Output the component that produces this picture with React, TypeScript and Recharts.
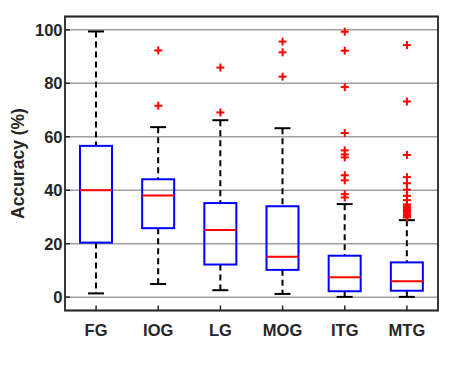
import {
  ComposedChart, Bar, Scatter, XAxis, YAxis, CartesianGrid, ReferenceArea,
} from 'recharts';

// box plot summary per region (values in %)
const categories = ['FG', 'IOG', 'LG', 'MOG', 'ITG', 'MTG'];
const lowerWhisker = [1.4, 4.9, 2.6, 1.2, 0.1, 0.1];
const lowerQuartile = [20.4, 25.8, 12.2, 10.2, 2.2, 2.4];
const medians = [40.0, 38.0, 25.1, 15.1, 7.4, 5.9];
const upperQuartile = [56.6, 44.1, 35.2, 34.0, 15.5, 13.0];
const upperWhisker = [99.4, 63.6, 66.2, 63.2, 34.8, 28.8];
const outliers: number[][] = [
  [],
  [92.3, 71.6],
  [85.9, 69.1],
  [95.6, 91.6, 82.5],
  [99.3, 92.2, 78.6, 61.4, 54.9, 53.4, 52.3, 45.6, 43.7, 38.5, 37.3],
  [94.3, 73.2, 53.2, 44.9, 42.6, 40.2, 37.9, 36.3, 34.7, 34.0, 33.4, 32.8, 32.2, 31.6, 31.0, 30.4, 29.8],
];
const yTicks = [0, 20, 40, 60, 80, 100];

const boxData = categories.map((name, i) => ({
  name,
  lo: lowerWhisker[i],
  q1: lowerQuartile[i],
  med: medians[i],
  q3: upperQuartile[i],
  hi: upperWhisker[i],
}));

const outlierData = categories.flatMap((name, i) =>
  outliers[i].map((v) => ({ name, v })),
);

const FONT = '"Liberation Sans", Arial, Helvetica, sans-serif';
const INK = '#262626';

const BoxShape = (props: any) => {
  const { x, y, width, height, payload } = props;
  const top = Math.min(y, y + height);
  const bottom = Math.max(y, y + height);
  const { lo, hi } = payload;
  const py = (v: number) => bottom - ((bottom - top) * (v - lo)) / (hi - lo);
  const cx = x + width / 2;
  const cap = width / 4;
  const yq1 = py(payload.q1);
  const yq3 = py(payload.q3);
  const ymed = py(payload.med);
  return (
    <g>
      <line x1={cx} x2={cx} y1={top} y2={yq3} stroke="#000" strokeWidth={2} strokeDasharray="6 4" />
      <line x1={cx} x2={cx} y1={yq1} y2={bottom} stroke="#000" strokeWidth={2} strokeDasharray="6 4" />
      <line x1={cx - cap} x2={cx + cap} y1={top} y2={top} stroke="#000" strokeWidth={2} />
      <line x1={cx - cap} x2={cx + cap} y1={bottom} y2={bottom} stroke="#000" strokeWidth={2} />
      <rect x={x} y={yq3} width={width} height={yq1 - yq3} fill="none" stroke="#0000ff" strokeWidth={2} />
      <line x1={x} x2={x + width} y1={ymed} y2={ymed} stroke="#ff0000" strokeWidth={2} />
    </g>
  );
};

const Plus = (props: any) => {
  const { cx, cy } = props;
  const s = 4;
  return (
    <g stroke="#ff0000" strokeWidth={2}>
      <line x1={cx - s} x2={cx + s} y1={cy} y2={cy} />
      <line x1={cx} x2={cx} y1={cy - s} y2={cy + s} />
    </g>
  );
};

const YTitle = (props: any) => {
  const vb = props.viewBox || { x: 0, y: 0, width: 0, height: 0 };
  const cy = vb.y + vb.height / 2;
  const cx = 18;
  return (
    <text
      x={cx} y={cy} transform={`rotate(-90, ${cx}, ${cy})`}
      textAnchor="middle" dominantBaseline="central"
      fill={INK} fontFamily={FONT} fontWeight="bold" fontSize={17.5}
    >
      Accuracy (%)
    </text>
  );
};

const tickStyle = { fill: INK, fontSize: 16.5, fontWeight: 'bold', fontFamily: FONT };

export default function App() {
  return (
    <div style={{ position: 'absolute', left: 0, top: 0, background: '#fff' }}>
      <ComposedChart
        width={474}
        height={366}
        data={boxData}
        margin={{ top: 16.5, right: 36, left: 0, bottom: 25.5 }}
      >
        <CartesianGrid vertical={false} stroke="#a0a0a0" strokeWidth={1.5} />
        <XAxis
          dataKey="name"
          type="category"
          allowDuplicatedCategory={false}
          height={30}
          axisLine={false}
          tickSize={-5}
          tickMargin={19}
          tickLine={{ stroke: INK, strokeWidth: 1.5 }}
          tick={tickStyle}
        />
        <XAxis
          xAxisId="top"
          dataKey="name"
          orientation="top"
          height={0}
          axisLine={false}
          tick={false}
          tickSize={-5}
          tickLine={{ stroke: INK, strokeWidth: 1.5 }}
        />
        <YAxis
          type="number"
          domain={[-5, 105]}
          ticks={yTicks}
          width={65}
          axisLine={false}
          tickSize={-5}
          tickMargin={7.5}
          tickLine={{ stroke: INK, strokeWidth: 1.5 }}
          tick={tickStyle}
          label={<YTitle />}
        />
        <YAxis
          yAxisId="right"
          orientation="right"
          type="number"
          domain={[-5, 105]}
          ticks={yTicks}
          width={0}
          axisLine={false}
          tick={false}
          tickSize={-5}
          tickLine={{ stroke: INK, strokeWidth: 1.5 }}
        />
        <Bar
          dataKey={(d: any) => [d.lo, d.hi]}
          barSize={32}
          shape={<BoxShape />}
          isAnimationActive={false}
        />
        <Scatter
          data={outlierData}
          dataKey="v"
          shape={<Plus />}
          isAnimationActive={false}
        />
        <ReferenceArea
          y1={-5}
          y2={105}
          fill="none"
          stroke={INK}
          strokeWidth={1.8}
          ifOverflow="visible"
        />
      </ComposedChart>
    </div>
  );
}
